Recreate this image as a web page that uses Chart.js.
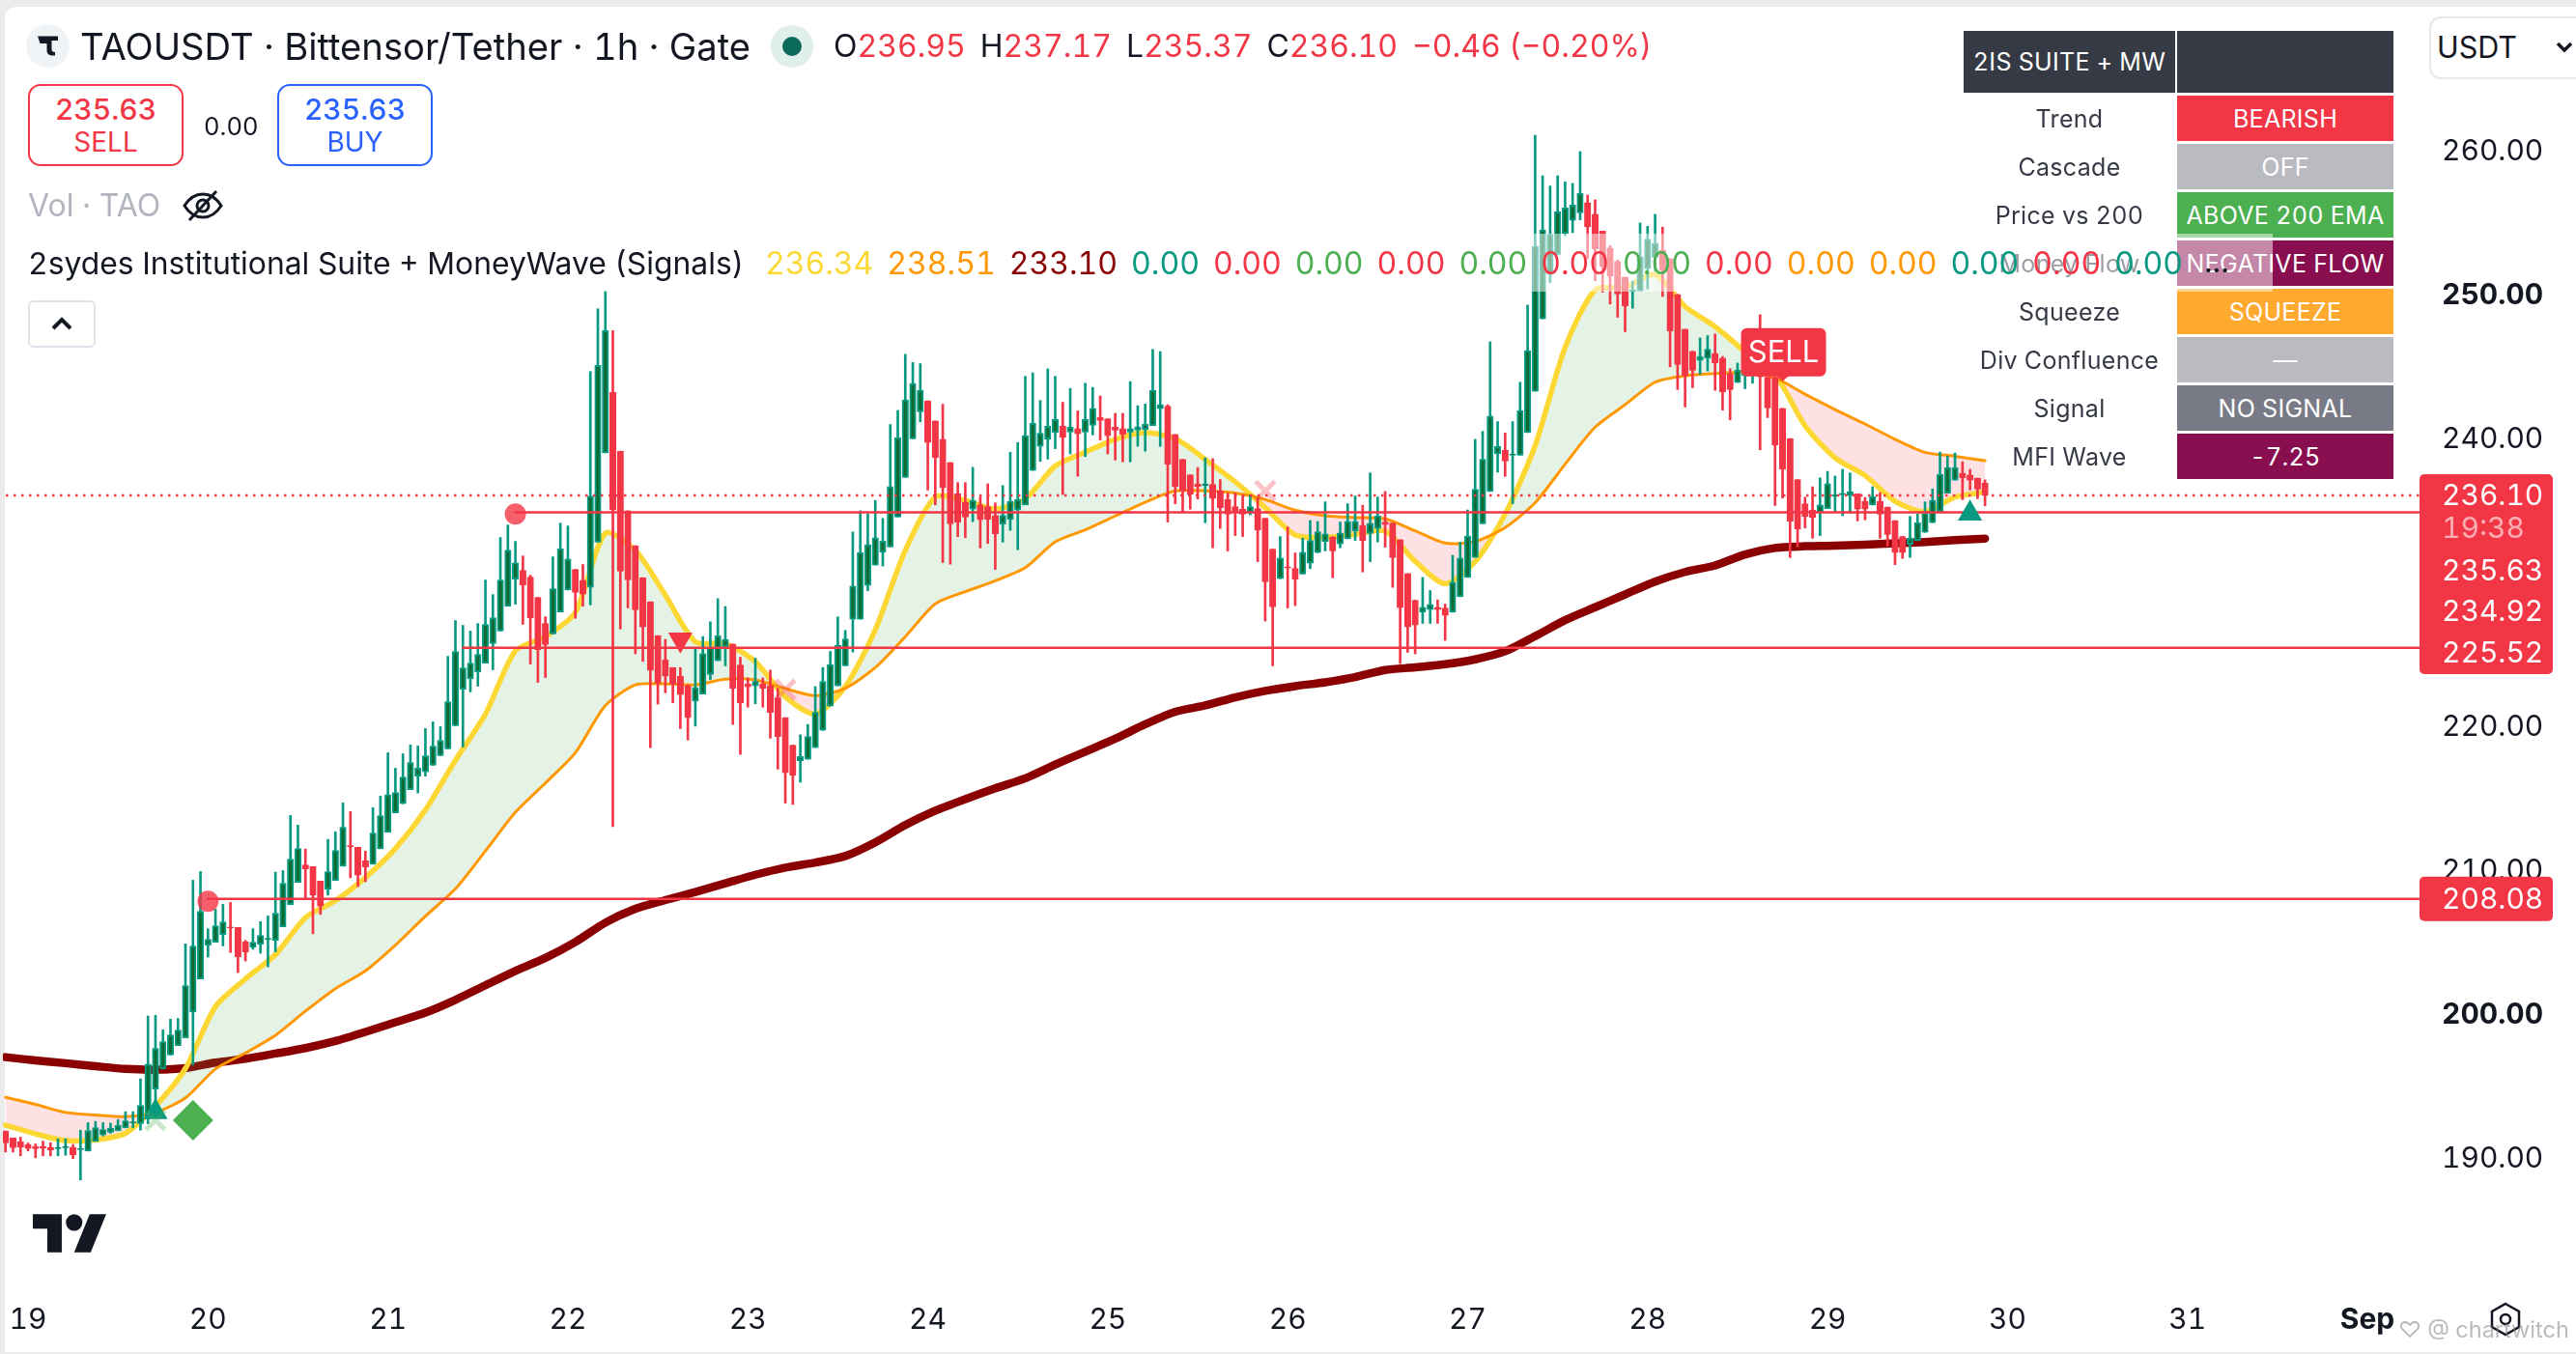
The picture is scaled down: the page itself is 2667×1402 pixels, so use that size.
<!DOCTYPE html>
<html>
<head>
<meta charset="utf-8">
<title>TAOUSDT</title>
<script src="https://cdn.jsdelivr.net/npm/chart.js@4/dist/chart.umd.js"></script>
<style>
html, body { margin: 0; padding: 0; background: #ebebeb; }
body { width: 2667px; height: 1402px; position: relative; overflow: hidden; font-family: Inter, sans-serif; color: #131722; font-feature-settings: "tnum"; }
#card { position: absolute; left: 5px; top: 7px; width: 2662px; height: 1393px; background: #fff; border-radius: 12px 0 0 0; }
/* the x axis keeps 18px in from the canvas edge, so the canvas starts 18px left of the page */
#lineChart { position: absolute; left: -18px; top: 0; z-index: 1; }
.abs { position: absolute; z-index: 3; white-space: nowrap; line-height: 1; }
#overlay { position: absolute; left: 20px; top: 242px; width: 2333px; height: 60px; background: rgba(255,255,255,0.5); z-index: 2; }
#table { position: absolute; z-index: 1; left: 0; top: 0; }
.cell { position: absolute; z-index: 1; display: flex; align-items: center; justify-content: center; font-size: 25px; letter-spacing: 0.3px; white-space: nowrap; }
.tradeBox { position: absolute; z-index: 3; top: 87px; width: 157px; height: 81px; border: 2px solid; border-radius: 13px; text-align: center; background: #fff; }
.tradeBox div:first-child { font-size: 30px; margin-top: 6px; line-height: 36px; font-weight: 500; }
.tradeBox div:last-child { font-size: 28px; line-height: 32px; }
#legendRow { position: absolute; z-index: 3; left: 792px; top: 255px; display: flex; gap: 14px; font-size: 32px; line-height: 36px; white-space: nowrap; }
</style>
</head>
<body>
<div id="card"></div>
<canvas id="lineChart" width="2685" height="1402"></canvas>
<div id="table"></div>
<div id="overlay"></div>

<svg class="abs" style="left:27px;top:25px" width="45" height="45" viewBox="0 0 45 45">
  <circle cx="22.5" cy="22.5" r="22.5" fill="#f0f3f5"/>
  <path d="M12 12.5h21v4.5h-6.5v9c0 2 .8 3 3.5 3v3.5c-5.500 .5-8.500-1-8.500-5.500v-7H14.500z" fill="#131722"/>
</svg>
<div class="abs" id="title" style="left:83px;top:29px;font-size:38.2px">TAOUSDT · Bittensor/Tether · 1h · Gate</div>
<svg class="abs" style="left:798px;top:26px" width="44" height="44"><circle cx="22" cy="22" r="22" fill="#e0efea"/><circle cx="22" cy="22" r="10" fill="#0b6b58"/></svg>
<div class="abs" id="ohlc" style="left:863px;top:32px;font-size:32px"></div>

<div class="tradeBox" style="left:29px;border-color:#f23645;color:#f23645"><div>235.63</div><div>SELL</div></div>
<div class="abs" style="left:211px;top:118px;font-size:25.5px">0.00</div>
<div class="tradeBox" style="left:287px;border-color:#2962ff;color:#2962ff"><div>235.63</div><div>BUY</div></div>

<div class="abs" style="left:29px;top:197px;font-size:32px;color:#b2b5be">Vol · TAO</div>
<svg class="abs" style="left:188px;top:194px" width="44" height="38" viewBox="0 0 44 38" fill="none" stroke="#131722" stroke-width="3">
  <path d="M3 19c5-8 11-12 19-12s14 4 19 12c-5 8-11 12-19 12S8 27 3 19z"/><circle cx="22" cy="19" r="6"/><path d="M8 34 36 4"/>
</svg>

<div class="abs" id="suiteName" style="left:29px;top:257px;font-size:31.85px">2sydes Institutional Suite + MoneyWave (Signals)</div>
<div id="legendRow"></div>
<div class="abs" style="left:2282px;top:255px;font-size:32px;color:#131722">...</div>

<div class="abs" style="left:29px;top:311px;width:66px;height:45px;border:2px solid #e0e3eb;border-radius:6px;background:#fff"></div>
<svg class="abs" style="left:52px;top:326px" width="24" height="18" fill="none" stroke="#131722" stroke-width="4"><path d="M3 14 12 5l9 9"/></svg>

<div class="abs" style="left:2515px;top:17px;width:170px;height:61px;border:2px solid #e6e8ee;border-radius:12px;background:#fff"></div>
<div class="abs" style="left:2523px;top:34px;font-size:30.5px">USDT</div>
<svg class="abs" style="left:2646px;top:42px" width="18" height="14" fill="none" stroke="#131722" stroke-width="3.500"><path d="M2 3 9 10l7-7"/></svg>

<svg class="abs" style="left:34px;top:1255px" width="77" height="42" viewBox="0 0 36 19.500"><path d="M14 19.500H7V8H0V1h14zM28 19.500h-8L27.500 1h8z" fill="#131722"/><circle cx="20" cy="5" r="4" fill="#131722"/></svg>
<svg class="abs" style="left:2575px;top:1347px" width="38" height="38" viewBox="0 0 38 38" fill="none" stroke="#131722" stroke-width="2.500"><path d="M19 3 33 11v16l-14 8-14-8V11z"/><circle cx="19" cy="19" r="5"/></svg>
<div class="abs" style="left:2483px;top:1365px;font-size:23.5px;color:rgba(130,130,130,0.55)">♡ @ chartwitch</div>

<script>
// candles, one per hour, first one is Aug 18 21:00
const opens = [
    191.95,191.46,191.19,191.01,190.87,190.87,190.81,190.72,190.78,190.83,
    190.65,190.56,191.23,191.68,191.86,191.97,192.17,192.51,192.46,192.80,
    194.87,196.26,197.22,197.89,198.42,200.21,202.51,204.86,205.06,205.60,
    206.13,206.09,205.08,204.70,204.93,205.26,205.19,206.13,207.68,209.22,
    210.43,210.32,209.31,208.73,209.36,210.34,211.77,211.66,210.72,210.48,
    211.55,212.71,214.05,214.68,215.66,216.60,216.90,217.35,218.02,218.49,
    220.10,222.64,223.38,223.85,224.45,225.80,226.67,228.41,230.28,230.89,
    230.42,229.01,227.20,226.47,228.00,229.53,230.96,230.20,229.72,232.85,
    239.05,243.27,239.17,235.03,232.61,230.39,228.71,226.36,224.69,224.14,
    223.54,222.87,221.82,222.30,223.66,224.62,225.58,225.77,224.31,223.01,
    222.87,223.01,222.89,222.03,220.67,218.75,217.67,217.77,218.58,219.78,
    221.46,222.87,224.26,227.49,227.49,229.84,231.25,232.16,232.52,234.60,
    237.35,240.03,241.90,242.67,241.28,239.99,238.38,236.23,235.63,235.15,
    235.44,235.32,234.70,234.10,234.43,235.08,235.44,237.83,239.51,239.99,
    240.47,240.90,240.49,240.73,240.49,240.97,241.52,241.42,240.85,240.73,
    240.49,240.63,240.68,240.95,242.13,242.29,240.34,238.60,237.53,236.90,
    236.79,236.86,236.41,235.81,235.32,235.14,234.92,235.18,234.51,232.37,
    230.31,231.14,231.03,230.63,231.39,232.12,232.88,233.20,232.73,233.08,
    233.64,234.02,233.46,233.80,234.25,234.18,233.02,230.67,228.82,227.99,
    228.17,228.33,228.28,227.99,229.06,230.40,231.79,234.13,236.37,238.98,
    239.25,238.89,238.89,240.46,243.33,248.36,251.44,252.83,254.30,255.20,
    255.73,256.43,255.62,254.46,253.28,252.34,251.26,250.28,250.30,251.85,
    252.63,253.12,252.54,250.06,247.65,246.10,245.48,245.63,245.95,245.63,
    244.52,243.94,244.41,244.74,244.74,244.30,244.30,242.15,240.05,237.19,
    235.52,235.09,234.91,235.18,236.03,236.14,236.09,236.21,235.69,235.43,
    235.69,235.29,234.35,233.24,232.68,232.95,233.53,234.20,234.96,236.25,
    237.15,237.64,237.52,237.30,236.95
];
const highs = [
    191.95,191.46,191.52,191.12,191.05,191.25,191.14,191.41,191.41,191.01,
    192.01,192.53,192.62,192.53,192.50,192.75,193.29,193.29,195.57,199.94,
    199.99,198.98,199.72,199.77,204.95,209.37,209.97,206.00,207.36,207.70,
    207.83,206.09,205.19,206.00,206.49,206.89,209.93,210.04,213.87,213.20,
    211.53,210.32,209.31,212.20,212.73,214.74,214.14,211.66,211.39,214.41,
    215.21,218.22,217.15,218.15,218.76,218.69,219.90,220.37,220.03,224.92,
    227.40,227.07,226.67,227.20,230.22,229.21,233.17,234.04,232.90,231.89,
    230.55,229.01,227.67,231.83,234.17,233.98,230.96,231.30,244.70,249.06,
    250.28,247.55,239.17,235.03,232.61,230.39,228.71,226.36,226.10,224.14,
    224.14,222.94,225.53,226.30,227.32,228.93,228.38,225.77,224.86,223.42,
    224.79,223.42,223.97,222.70,220.67,218.75,219.47,220.19,222.82,224.14,
    225.26,227.66,226.72,233.55,235.03,234.84,235.75,234.50,241.02,242.00,
    245.90,245.33,245.25,242.67,241.28,242.43,238.38,236.99,236.99,238.05,
    235.99,236.90,235.58,236.78,239.10,239.77,244.37,244.61,242.69,244.89,
    244.37,242.57,243.53,241.97,243.89,243.60,243.00,241.42,241.80,241.80,
    244.00,242.33,242.45,246.24,246.09,242.40,240.34,238.60,237.53,238.04,
    238.71,238.65,237.20,236.26,236.26,236.08,236.15,235.92,234.51,232.37,
    233.24,233.91,232.10,233.13,234.36,234.29,235.65,233.24,234.25,235.52,
    236.06,235.41,237.66,235.99,236.37,234.18,233.02,230.67,228.82,230.40,
    229.49,228.84,228.55,231.94,232.84,235.09,239.99,240.55,246.76,241.22,
    240.43,241.22,243.96,249.32,261.12,258.30,257.59,258.30,257.88,257.77,
    259.98,256.96,256.63,254.46,253.45,252.45,251.26,250.99,255.02,254.79,
    255.62,254.73,252.54,250.06,247.65,246.13,247.04,247.20,247.31,245.75,
    244.90,245.30,247.24,246.82,248.65,244.30,244.30,242.15,240.05,237.19,
    235.98,236.70,237.32,237.77,237.44,237.91,237.66,236.21,235.96,236.70,
    236.30,235.29,234.35,233.24,234.64,234.80,235.65,236.54,239.11,238.82,
    239.04,238.44,237.91,237.30,237.17
];
const lows = [
    190.49,190.49,190.23,190.56,190.09,190.23,190.23,190.23,190.27,190.03,
    188.55,190.56,191.23,191.61,191.79,191.97,192.17,192.17,192.01,192.46,
    193.58,196.26,197.22,197.89,198.42,196.53,202.51,204.03,205.06,204.81,
    204.35,202.96,203.76,204.57,204.30,203.36,204.39,206.13,207.68,209.22,
    208.15,205.65,206.99,208.33,209.36,210.34,209.54,208.93,209.27,210.48,
    211.55,212.71,214.05,214.68,215.66,215.43,216.60,217.35,218.02,218.49,
    220.10,218.62,222.45,222.85,224.45,223.99,226.67,228.41,228.54,227.14,
    224.39,223.11,223.45,226.47,228.00,229.53,227.56,228.40,228.50,232.85,
    239.05,213.10,226.82,228.28,225.10,224.57,218.58,221.60,222.39,221.70,
    219.90,219.11,220.07,222.30,223.30,224.62,224.26,220.19,218.11,221.39,
    221.63,221.39,219.23,217.08,214.73,214.63,216.17,217.77,218.58,219.78,
    221.46,222.87,224.26,225.22,227.49,229.48,231.25,231.19,232.52,234.60,
    237.35,240.03,241.21,236.47,235.44,231.44,231.32,233.23,233.16,234.27,
    232.45,232.76,230.96,232.85,233.67,232.33,235.44,237.83,238.46,238.62,
    239.34,236.16,238.98,237.43,238.79,240.30,239.94,238.98,238.55,238.43,
    238.43,239.51,239.17,240.95,239.50,234.25,235.52,234.98,235.14,235.85,
    234.20,232.46,233.80,232.24,233.31,233.24,234.74,231.50,227.37,224.26,
    230.31,228.28,228.44,230.63,231.01,232.12,232.24,230.38,232.46,233.08,
    232.97,230.78,231.50,232.86,232.50,229.71,224.42,225.20,225.09,227.21,
    227.21,227.21,226.03,227.99,229.06,230.40,231.79,234.13,236.37,237.71,
    237.42,235.52,238.89,240.46,243.33,248.36,250.88,252.83,254.12,254.35,
    255.24,252.56,251.00,250.21,249.39,248.47,247.47,249.10,250.30,250.44,
    251.67,249.92,245.03,243.45,242.24,243.58,244.52,244.74,243.40,242.02,
    241.35,243.94,243.51,243.89,239.27,241.50,235.40,235.92,231.78,232.52,
    233.84,233.12,233.30,235.18,234.96,234.69,234.87,234.33,234.40,235.43,
    233.12,232.57,231.29,231.72,231.79,232.95,233.53,234.20,234.96,236.25,
    237.15,235.80,236.48,235.87,235.37
];
const closes = [
    191.12,190.78,190.83,190.74,190.72,190.76,190.63,190.81,190.87,190.29,
    190.72,191.99,192.19,192.06,192.15,192.33,192.66,192.59,193.73,196.59,
    197.69,198.16,198.63,198.96,202.04,204.79,207.21,205.26,206.20,206.47,
    206.07,204.03,204.37,205.06,205.53,205.33,207.07,209.15,210.83,211.57,
    210.14,208.33,207.57,209.96,211.44,213.04,211.68,209.72,210.27,212.64,
    213.85,215.32,215.46,216.53,217.55,217.15,218.02,218.69,219.09,221.77,
    225.26,224.12,224.45,225.06,227.14,227.60,230.22,232.30,231.42,229.88,
    227.60,225.39,225.73,229.61,232.40,231.68,229.36,229.24,236.06,245.13,
    247.55,235.08,230.84,230.24,228.16,226.96,223.95,223.06,223.54,222.99,
    222.27,220.67,222.75,225.10,225.53,226.34,226.10,222.70,221.70,222.80,
    223.18,222.70,221.03,219.35,216.84,216.65,217.96,219.35,221.03,223.18,
    224.33,225.70,226.13,229.81,232.13,232.69,233.16,232.92,236.71,240.11,
    242.74,243.87,243.41,239.77,238.74,236.64,234.12,234.24,234.60,235.75,
    234.41,234.43,233.43,234.72,235.68,235.82,240.25,241.11,240.42,240.90,
    241.38,240.13,240.85,240.37,241.38,242.14,241.30,240.25,240.63,240.35,
    240.73,240.85,241.04,243.41,242.40,238.27,236.70,236.41,236.19,236.73,
    236.90,235.88,235.25,234.80,234.92,234.80,235.32,233.69,230.09,228.35,
    231.74,231.05,230.29,232.15,232.97,233.58,233.42,232.24,233.49,234.29,
    234.29,232.97,234.16,234.69,234.07,231.77,228.30,226.96,227.10,228.33,
    228.53,228.17,227.77,230.07,231.74,233.28,236.52,238.60,241.60,239.50,
    238.49,238.98,241.99,246.15,253.39,254.53,254.24,255.80,256.07,256.27,
    257.07,254.75,253.23,252.00,251.33,250.08,249.25,250.37,252.67,253.90,
    253.61,251.71,247.53,245.19,244.41,244.79,245.75,246.26,245.30,243.29,
    243.45,244.79,245.08,245.41,244.34,242.17,239.60,237.93,234.31,233.75,
    234.64,234.58,235.43,236.92,236.14,236.25,236.36,235.14,235.14,236.03,
    234.80,233.39,232.12,232.12,233.12,234.20,234.87,235.76,237.55,238.04,
    238.04,237.32,237.15,236.54,236.10
];

// moving averages
const maIdx = [0,4,8,12,16,20,24,28,32,36,40,44,48,52,56,60,64,68,72,76,80,84,88,92,96,100,104,108,112,116,120,124,128,132,136,140,144,148,152,156,160,164,168,172,176,180,184,188,192,196,200,204,208,212,216,220,224,228,232,236,240,244,248,252,256,260,264];
const fastLine = [192.35,191.75,191.28,191.34,191.79,193.69,196.30,200.60,202.52,204.20,206.77,207.95,209.56,211.57,214.25,217.70,220.90,225.30,226.29,227.97,233.48,232.28,229.17,225.93,225.80,224.55,222.10,220.91,222.82,226.77,232.28,235.99,235.75,235.15,235.87,238.14,239.10,240.00,240.45,240.05,238.60,237.04,235.25,233.35,233.17,233.40,233.62,231.52,229.96,231.50,234.80,239.55,246.37,250.37,250.55,251.44,249.21,247.82,246.08,244.52,240.94,238.71,237.48,235.69,234.96,235.98,236.34];
const slowLine = [194.29,193.80,193.24,193.06,192.95,193.24,194.25,196.26,197.37,198.60,200.28,201.84,203.07,204.86,206.87,208.77,211.40,214.09,216.12,218.23,221.50,222.94,223.01,222.94,223.33,223.28,222.68,222.18,222.70,224.14,226.29,228.57,229.41,230.17,231.08,232.88,233.71,234.67,235.62,236.41,236.41,236.26,235.81,235.07,234.69,234.56,234.47,233.64,232.79,232.90,233.87,235.59,238.27,240.84,242.40,243.96,244.40,244.56,244.63,244.25,243.13,242.06,241.06,240.00,239.09,238.82,238.51];
const ema200 = [197.08,196.85,196.66,196.45,196.26,196.21,196.32,196.70,196.97,197.33,197.71,198.20,198.83,199.50,200.17,201.06,202.07,203.07,203.97,205.08,206.42,207.38,207.99,208.55,209.15,209.75,210.25,210.60,211.05,212.00,213.20,214.20,215.00,215.75,216.45,217.40,218.30,219.20,220.20,221.07,221.51,222.07,222.52,222.85,223.12,223.48,223.97,224.15,224.37,224.71,225.27,226.32,227.43,228.33,229.22,230.11,230.78,231.23,232.00,232.45,232.57,232.61,232.68,232.77,232.86,232.99,233.10];

// levels and signals
const levelStart = [27, 68, 61];
const levelValue = [208.08, 234.92, 225.52];
const lastPrice = 236.10;
const circleIdx = [27, 68];
const circlePrice = [207.90, 234.80];
const upTriIdx = [20, 262];
const upTriPrice = [193.27, 234.83];
const downTriIdx = [90];
const downTriPrice = [226.08];
const diamondIdx = [25];
const diamondPrice = [192.70];
const pinkCrossIdx = [104, 168];
const pinkCrossPrice = [222.60, 236.40];
const greenCrossIdx = [20];
const greenCrossPrice = [192.70];
const sellLabelIdx = 237;
const sellLabelPrice = 244.10;

// axes
const yTicks = [190, 200, 210, 220, 230, 240, 250, 260];
const yBoldTicks = [200, 250];
const dayIdx = [3, 27, 51, 75, 99, 123, 147, 171, 195, 219, 243, 267, 291, 315];
const dayLabels = ['19', '20', '21', '22', '23', '24', '25', '26', '27', '28', '29', '30', '31', 'Sep'];

// legend row and status table
const legendValues = ['236.34', '238.51', '233.10', '0.00', '0.00', '0.00', '0.00', '0.00', '0.00', '0.00', '0.00', '0.00', '0.00', '0.00', '0.00', '0.00'];
const legendColors = ['#fdd835', '#ff9800', '#8b0000', '#089981', '#f23645', '#4caf50', '#f23645', '#4caf50', '#f23645', '#4caf50', '#f23645', '#ff9800', '#ff9800', '#089981', '#f23645', '#089981'];
const tableLabels = ['Trend', 'Cascade', 'Price vs 200', 'Money Flow', 'Squeeze', 'Div Confluence', 'Signal', 'MFI Wave'];
const tableValues = ['BEARISH', 'OFF', 'ABOVE 200 EMA', 'NEGATIVE FLOW', 'SQUEEZE', '—', 'NO SIGNAL', '-7.25'];
const tableColors = ['#f23645', '#babbc0', '#4caf50', '#880e4f', '#ffa92f', '#babbc0', '#787b86', '#880e4f'];

const RED = '#f23645';
const TEAL = '#089981';
const DARK_GREEN = '#0d6a32';

function ohlcHeader() {
    const parts = [['O', '236.95'], ['H', '237.17'], ['L', '235.37'], ['C', '236.10']];
    let html = '';
    parts.forEach(p => {
        html += `<span style="color:#131722">${p[0]}</span><span style="color:${RED};margin-right:15px">${p[1]}</span>`;
    });
    html += `<span style="color:${RED}">−0.46 (−0.20%)</span>`;
    document.getElementById('ohlc').innerHTML = html;
}

function buildLegend() {
    const row = document.getElementById('legendRow');
    legendValues.forEach((v, i) => {
        const s = document.createElement('span');
        s.textContent = v;
        s.style.color = legendColors[i];
        row.appendChild(s);
    });
}

function addCell(parent, left, top, w, h, text, bg, color) {
    const d = document.createElement('div');
    d.className = 'cell';
    d.style.cssText = `left:${left}px;top:${top}px;width:${w}px;height:${h}px;background:${bg};color:${color}`;
    d.textContent = text;
    parent.appendChild(d);
}

function buildTable() {
    const t = document.getElementById('table');
    addCell(t, 2033, 32, 219, 64, '2IS SUITE + MW', '#363a45', '#fff');
    addCell(t, 2254, 32, 224, 64, '', '#363a45', '#fff');
    tableLabels.forEach((label, i) => {
        const top = 99 + i * 50;
        addCell(t, 2033, top, 219, 47, label, 'transparent', '#363a45');
        addCell(t, 2254, top, 224, 47, tableValues[i], tableColors[i], '#fff');
    });
}

const pts = (xs, ys) => xs.map((x, k) => ({ x: x, y: ys[k] }));
const candleColor = i => closes[i] >= opens[i];

// tick labels must not push the plot area in from the card edge
function noLabelPadding(axis) {
    axis.paddingLeft = 0;
    axis.paddingRight = 0;
    axis.paddingTop = 0;
    axis.paddingBottom = 0;
}

// red tags on the price scale plus the sell flag, placed through the y scale
const priceTags = {
    id: 'priceTags',
    afterDraw(chart) {
        const c = chart.ctx;
        const y = chart.scales.y;
        const x = chart.scales.x;
        const tagLeft = chart.chartArea.right;
        const tagW = 138;
        const lastY = y.getPixelForValue(lastPrice);
        c.save();
        c.fillStyle = RED;
        c.beginPath();
        c.roundRect(tagLeft, lastY - 22, tagW, 207, 5);
        c.fill();
        const lowY = y.getPixelForValue(levelValue[0]);
        c.beginPath();
        c.roundRect(tagLeft, lowY - 23, tagW, 46, 5);
        c.fill();
        c.font = '30px Inter';
        c.textBaseline = 'middle';
        c.textAlign = 'left';
        c.fillStyle = '#fff';
        const rows = [[lastPrice.toFixed(2), 1], ['19:38', 35], ['235.63', 79], [levelValue[1].toFixed(2), 121], [levelValue[2].toFixed(2), 164]];
        rows.forEach((r, k) => {
            c.fillStyle = k === 1 ? 'rgba(255,255,255,0.6)' : '#fff';
            c.fillText(r[0], tagLeft + 23, lastY + r[1]);
        });
        c.fillStyle = '#fff';
        c.fillText(levelValue[0].toFixed(2), tagLeft + 23, lowY + 1);

        const sx = x.getPixelForValue(sellLabelIdx);
        const sy = y.getPixelForValue(sellLabelPrice);
        c.fillStyle = RED;
        c.beginPath();
        c.roundRect(sx - 43, sy - 54, 88, 50, 6);
        c.fill();
        c.beginPath();
        c.moveTo(sx - 7, sy - 5);
        c.lineTo(sx + 7, sy - 5);
        c.lineTo(sx, sy + 1);
        c.fill();
        c.fillStyle = '#fff';
        c.textAlign = 'center';
        c.font = '31px Inter';
        c.fillText('SELL', sx + 1, sy - 28);
        c.restore();
    }
};

document.addEventListener('DOMContentLoaded', function() {
    ohlcHeader();
    buildLegend();
    buildTable();

    const indexes = opens.map((_, i) => i);
    const ctx = document.getElementById('lineChart').getContext('2d');
    const barBase = {
        type: 'bar',
        grouped: false,
        barPercentage: 1,
        categoryPercentage: 1,
        borderSkipped: false
    };
    const lineBase = { type: 'line', pointRadius: 0, fill: false, tension: 0.25, borderCapStyle: 'round' };
    const markerBase = { type: 'scatter', order: 0, showLine: false, pointBorderWidth: 0 };

    new Chart(ctx, {
        type: 'bar',
        data: {
            datasets: [
                Object.assign({}, lineBase, {
                    label: 'EMA fast', order: 6, data: pts(maIdx, fastLine), borderColor: '#fdd835', borderWidth: 5.5,
                    fill: { target: 1, above: 'rgba(76,175,80,0.15)', below: 'rgba(242,54,69,0.15)' }
                }),
                Object.assign({}, lineBase, { label: 'EMA slow', order: 5, data: pts(maIdx, slowLine), borderColor: '#ff9800', borderWidth: 3 }),
                Object.assign({}, lineBase, { label: 'EMA 200', order: 7, data: pts(maIdx, ema200), borderColor: '#8b0000', borderWidth: 8.5 }),
                Object.assign({}, barBase, {
                    label: 'wicks', order: 4, maxBarThickness: 2,
                    data: indexes.map(i => ({ x: i, y: [lows[i], highs[i]] })),
                    backgroundColor: indexes.map(i => candleColor(i) ? TEAL : RED)
                }),
                Object.assign({}, barBase, {
                    label: 'bodies', order: 3, maxBarThickness: 6.5, borderWidth: 2,
                    data: indexes.map(i => ({ x: i, y: [opens[i], closes[i]] })),
                    backgroundColor: indexes.map(i => candleColor(i) ? DARK_GREEN : RED),
                    borderColor: indexes.map(i => candleColor(i) ? TEAL : RED)
                }),
                Object.assign({}, lineBase, { label: 'level 1', order: 2, tension: 0, data: [{ x: levelStart[0], y: levelValue[0] }, { x: 322, y: levelValue[0] }], borderColor: RED, borderWidth: 2.5 }),
                Object.assign({}, lineBase, { label: 'level 2', order: 2, tension: 0, data: [{ x: levelStart[1], y: levelValue[1] }, { x: 322, y: levelValue[1] }], borderColor: RED, borderWidth: 2.5 }),
                Object.assign({}, lineBase, { label: 'level 3', order: 2, tension: 0, data: [{ x: levelStart[2], y: levelValue[2] }, { x: 322, y: levelValue[2] }], borderColor: RED, borderWidth: 2.5 }),
                Object.assign({}, lineBase, { label: 'last', order: 2, tension: 0, borderCapStyle: 'butt', data: [{ x: -1, y: lastPrice }, { x: 322, y: lastPrice }], borderColor: RED, borderWidth: 2.5, borderDash: [2.5, 5.5] }),
                Object.assign({}, markerBase, { label: 'circles', data: pts(circleIdx, circlePrice), pointStyle: 'circle', pointRadius: 11, pointBackgroundColor: 'rgba(242,54,69,0.8)' }),
                Object.assign({}, markerBase, { label: 'green crosses', data: pts(greenCrossIdx, greenCrossPrice), pointStyle: 'crossRot', pointRadius: 14, pointBorderWidth: 5, pointBorderColor: 'rgba(76,175,80,0.3)' }),
                Object.assign({}, markerBase, { label: 'up', data: pts(upTriIdx, upTriPrice), pointStyle: 'triangle', pointRadius: 14.5, pointBackgroundColor: TEAL }),
                Object.assign({}, markerBase, { label: 'down', data: pts(downTriIdx, downTriPrice), pointStyle: 'triangle', pointRotation: 180, pointRadius: 14.5, pointBackgroundColor: RED }),
                Object.assign({}, markerBase, { label: 'diamond', data: pts(diamondIdx, diamondPrice), pointStyle: 'rectRot', pointRadius: 21, pointBackgroundColor: '#4caf50' }),
                Object.assign({}, markerBase, { label: 'pink crosses', data: pts(pinkCrossIdx, pinkCrossPrice), pointStyle: 'crossRot', pointRadius: 14, pointBorderWidth: 5, pointBorderColor: 'rgba(242,54,69,0.3)' })
            ]
        },
        options: {
            responsive: false,
            animation: false,
            devicePixelRatio: 1,
            layout: { padding: { left: 4, top: 20, right: 0, bottom: 0 } },
            plugins: { legend: { display: false }, tooltip: { enabled: false } },
            events: [],
            scales: {
                x: {
                    type: 'linear',
                    offset: false,
                    min: -0.35,
                    max: 321.95,
                    grid: { display: false, drawTicks: false },
                    border: { display: false },
                    afterBuildTicks: axis => { axis.ticks = dayIdx.map(v => ({ value: v })); },
                    afterFit: axis => { axis.height = 62; noLabelPadding(axis); },
                    ticks: {
                        autoSkip: false,
                        maxRotation: 0,
                        padding: 9,
                        color: '#131722',
                        font: c => ({ family: 'Inter', size: 30, weight: c.tick && c.tick.value === 315 ? 'bold' : 'normal' }),
                        callback: v => dayLabels[dayIdx.indexOf(v)]
                    }
                },
                y: {
                    position: 'right',
                    min: 180.62,
                    max: 269.10,
                    grid: { display: false, drawTicks: false },
                    border: { display: false },
                    afterBuildTicks: axis => { axis.ticks = yTicks.map(v => ({ value: v })); },
                    afterFit: axis => { axis.width = 162; noLabelPadding(axis); },
                    ticks: {
                        padding: 23,
                        color: '#131722',
                        font: c => ({ family: 'Inter', size: 30, weight: c.tick && yBoldTicks.includes(c.tick.value) ? 'bold' : 'normal' }),
                        callback: v => v.toFixed(2)
                    }
                }
            }
        },
        plugins: [priceTags]
    });
});
</script>
</body>
</html>
